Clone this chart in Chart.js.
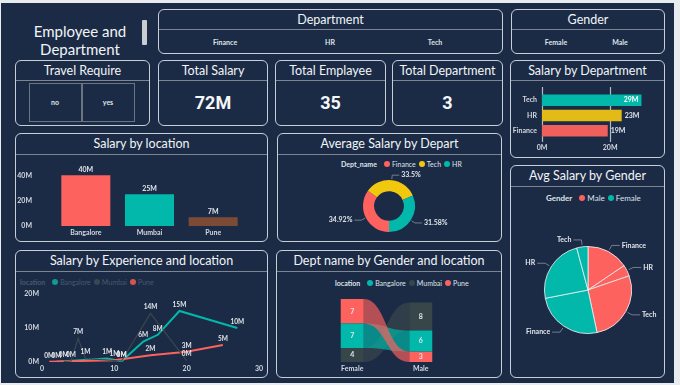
<!DOCTYPE html>
<html>
<head>
<meta charset="utf-8">
<script src="https://cdn.jsdelivr.net/npm/chart.js@4.4.1/dist/chart.umd.min.js"></script>
<style>
  body { margin: 0; width: 680px; height: 385px; position: relative; overflow: hidden; background: #e9ecef; font-family: Lato, "Open Sans", sans-serif; color: #f2f4f7; }
  #dash { position: absolute; left: 1px; top: 3px; width: 673px; height: 380px; background: #1b2b46; }
  .panel { position: absolute; box-sizing: border-box; border: 1.5px solid #c8ced6; border-radius: 6px; }
  .hd { position: absolute; left: 0; right: 0; top: 0; box-sizing: border-box; border-bottom: 1px solid #7d8593; text-align: center; font-size: 12.5px; white-space: nowrap; }
  .item { position: absolute; font-size: 7px; font-weight: 700; color: #dfe3e8; transform: translate(-50%, -50%); white-space: nowrap; }
  .kpi { position: absolute; left: 0; right: 0; text-align: center; font-family: Roboto, sans-serif; font-weight: 700; font-size: 17px; color: #f4f6f8; }
  .box { position: absolute; box-sizing: border-box; border: 1.5px solid #6b7481; }
  .legend { position: absolute; font-size: 7px; color: #dfe3e8; white-space: nowrap; display: flex; align-items: center; }
  .legend b { margin-right: 4px; }
  .dot { display: inline-block; width: 6px; height: 6px; border-radius: 50%; margin: 0 2px 0 3px; }
  canvas { position: absolute; }
</style>
</head>
<body>
<div id="dash"></div>

<!-- title -->
<div style="position:absolute;left:15px;top:22px;width:130px;text-align:center;font-size:15px;line-height:18px;">Employee and<br>Department</div>
<div style="position:absolute;left:142px;top:20px;width:5px;height:25px;background:#c9cdd2;border-radius:1px;"></div>

<!-- slicers -->
<div class="panel" style="left:158px;top:9px;width:345px;height:45px;">
  <div class="hd" style="height:20px;line-height:19px;">Department</div>
  <div class="item" style="left:66px;top:32px;">Finance</div>
  <div class="item" style="left:171px;top:32px;">HR</div>
  <div class="item" style="left:276px;top:32px;">Tech</div>
</div>
<div class="panel" style="left:511px;top:9px;width:154px;height:45px;">
  <div class="hd" style="height:20px;line-height:19px;">Gender</div>
  <div class="item" style="left:44px;top:32px;">Female</div>
  <div class="item" style="left:108px;top:32px;">Male</div>
</div>
<div class="panel" style="left:15px;top:60px;width:135px;height:66px;">
  <div class="hd" style="height:20px;line-height:19px;">Travel Require</div>
  <div class="box" style="left:13px;top:22px;width:53px;height:39px;"><div class="item" style="left:25px;top:18px;">no</div></div>
  <div class="box" style="left:66px;top:22px;width:53px;height:39px;"><div class="item" style="left:25px;top:18px;">yes</div></div>
</div>

<!-- cards -->
<div class="panel" style="left:158px;top:60px;width:110px;height:66px;">
  <div class="hd" style="height:20px;line-height:19px;">Total Salary</div>
  <div class="kpi" style="top:31px;font-size:18px;">72M</div>
</div>
<div class="panel" style="left:275px;top:60px;width:111px;height:66px;">
  <div class="hd" style="height:20px;line-height:19px;">Total Emplayee</div>
  <div class="kpi" style="top:31px;font-size:18px;">35</div>
</div>
<div class="panel" style="left:392px;top:60px;width:111px;height:66px;">
  <div class="hd" style="height:20px;line-height:19px;">Total Department</div>
  <div class="kpi" style="top:31px;font-size:18px;">3</div>
</div>

<!-- chart panels -->
<div class="panel" style="left:510px;top:60px;width:155px;height:98px;">
  <div class="hd" style="height:20px;line-height:19px;">Salary by Department</div>
</div>
<div class="panel" style="left:15px;top:133px;width:253px;height:109px;">
  <div class="hd" style="height:21px;line-height:20px;">Salary by location</div>
</div>
<div class="panel" style="left:277px;top:133px;width:225px;height:109px;">
  <div class="hd" style="height:21px;line-height:20px;">Average Salary by Depart</div>
</div>
<div class="panel" style="left:510px;top:165px;width:155px;height:213px;">
  <div class="hd" style="height:21px;line-height:20px;">Avg Salary by Gender</div>
</div>
<div class="panel" style="left:15px;top:250px;width:253px;height:128px;">
  <div class="hd" style="height:21px;line-height:20px;">Salary by Experience and location</div>
</div>
<div class="panel" style="left:276px;top:250px;width:226px;height:128px;">
  <div class="hd" style="height:21px;line-height:20px;">Dept name by Gender and location</div>
</div>

<!-- legends -->
<div class="legend" style="left:341px;top:160px;"><b>Dept_name</b><span class="dot" style="background:#fd625e"></span>Finance<span class="dot" style="background:#f2c80f"></span>Tech<span class="dot" style="background:#01b8aa"></span>HR</div>
<div class="legend" style="left:546px;top:193px;font-size:8px;"><b>Gender</b><span class="dot" style="background:#fd625e"></span>Male<span class="dot" style="background:#01b8aa"></span>Female</div>
<div class="legend" style="left:20px;top:278px;color:#4a586f;"><b>location</b><span class="dot" style="background:#0f9a92"></span>Bangalore<span class="dot" style="background:#3a4650"></span>Mumbai<span class="dot" style="background:#d4554f"></span>Pune</div>
<div class="legend" style="left:335px;top:279px;"><b>location</b><span class="dot" style="background:#01b8aa"></span>Bangalore<span class="dot" style="background:#374649"></span>Mumbai<span class="dot" style="background:#fd625e"></span>Pune</div>

<canvas id="locChart" width="252" height="86" style="left:15px;top:155px;"></canvas>
<canvas id="avgDeptChart" width="120" height="80" style="left:329px;top:166px;"></canvas>
<canvas id="deptChart" width="152" height="75" style="left:511px;top:82px;"></canvas>
<canvas id="genderChart" width="150" height="120" style="left:513px;top:230px;"></canvas>
<canvas id="expChart" width="252" height="92" style="left:15px;top:285px;"></canvas>
<canvas id="ribbonChart" width="225" height="86" style="left:277px;top:290px;"></canvas>

<script>
// --- Data ---
const locations = ["Bangalore", "Mumbai", "Pune"];
const salaryByLocation = [40, 25, 7]; // M

const avgDeptNames = ["Finance", "Tech", "HR"];
const avgSalaryByDept = [2.095, 2.01, 1.895]; // M

const salDeptNames = ["Tech", "HR", "Finance"];
const salaryByDept = [29.2, 23.4, 19.3]; // M

const genderDepts = ["Finance", "HR", "Tech"];
const maleAvgSalary = [1.12, 0.3, 1.94];
const femaleAvgSalary = [1.82, 1.72, 0.3];

const bangaloreExp = [2, 9, 11, 14, 16, 19, 27];
const bangaloreSalary = [0.1, 1, 0.2, 6, 8, 15, 10];
const mumbaiExp = [3, 4, 5, 6, 11, 15, 20];
const mumbaiSalary = [0.2, 0.3, 7, 1, 0.3, 14.3, 0.4];
const puneExp = [1, 10, 15, 20, 25];
const puneSalary = [0.1, 0.5, 2, 3, 5];

const ribbonGenders = ["Female", "Male"];
const femaleCount = [7, 4, 7]; // Bangalore, Mumbai, Pune
const maleCount = [6, 8, 3];

// --- Colours ---
const RED = "#fd625e", TEAL = "#01b8aa", YELLOW = "#f2c80f", GRAY = "#374649", BROWN = "#7d4b35";
const tickColor = "#d3d8de";
const labelColor = "#e2e5e9";
const smallFont = { family: "Lato", size: 7, weight: "bold" };

Chart.defaults.animation = false;
Chart.defaults.font.family = "Lato";
Chart.defaults.plugins.legend.display = false;
Chart.defaults.plugins.tooltip.enabled = false;

const noGrid = { display: false, drawTicks: false };

// --- Plugins ---
const barValueLabels = {
  id: "barValueLabels",
  afterDatasetsDraw(chart) {
    const ctx = chart.ctx;
    ctx.save();
    ctx.font = "bold 7px Lato";
    ctx.fillStyle = labelColor;
    ctx.textAlign = "center";
    ctx.textBaseline = "bottom";
    chart.getDatasetMeta(0).data.forEach((bar, i) => {
      ctx.fillText(Math.round(chart.data.datasets[0].data[i]) + "M", bar.x, bar.y - 2);
    });
    ctx.restore();
  },
};

function leaderLabels(format, gap, elbow, run) {
  return {
    id: "leaderLabels",
    afterDatasetsDraw(chart) {
      const ctx = chart.ctx;
      const ds = chart.data.datasets[0];
      const total = ds.data.reduce((a, b) => a + b, 0);
      ctx.save();
      ctx.font = "bold 7px Lato";
      ctx.strokeStyle = "#8a93a0";
      ctx.lineWidth = 0.8;
      ctx.fillStyle = labelColor;
      ctx.textBaseline = "middle";
      chart.getDatasetMeta(0).data.forEach((arc, i) => {
        const mid = (arc.startAngle + arc.endAngle) / 2;
        const r = arc.outerRadius;
        const c = Math.cos(mid), s = Math.sin(mid);
        const dir = c >= 0 ? 1 : -1;
        const x0 = arc.x + (r + gap) * c, y0 = arc.y + (r + gap) * s;
        const x1 = arc.x + (r + elbow) * c, y1 = arc.y + (r + elbow) * s;
        const x2 = x1 + dir * run;
        ctx.beginPath();
        ctx.moveTo(x0, y0);
        ctx.lineTo(x1, y1);
        ctx.lineTo(x2, y1);
        ctx.stroke();
        ctx.textAlign = dir > 0 ? "left" : "right";
        ctx.fillText(format(chart, i, ds.data[i], total), x2 + dir * 2, y1);
      });
      ctx.restore();
    },
  };
}

// --- Salary by location ---
new Chart(document.getElementById("locChart"), {
  type: "bar",
  data: {
    labels: locations,
    datasets: [{ data: salaryByLocation, backgroundColor: [RED, TEAL, BROWN], categoryPercentage: 1, barPercentage: 0.77 }],
  },
  options: {
    responsive: false,
    layout: { padding: { top: 14, right: 22 } },
    scales: {
      x: { grid: noGrid, border: { display: false }, ticks: { font: smallFont, color: tickColor, padding: 3 }, afterFit: (s) => { s.height = 15; } },
      y: {
        min: 0, max: 45, grid: noGrid, border: { display: false },
        ticks: { stepSize: 20, includeBounds: false, callback: (v) => v + "M", font: smallFont, color: tickColor, padding: 22 },
        afterFit: (s) => { s.width = 39; s.paddingTop = 4; s.paddingBottom = 4; },
      },
    },
  },
  plugins: [barValueLabels],
});

// --- Average Salary by Depart (donut) ---
new Chart(document.getElementById("avgDeptChart"), {
  type: "doughnut",
  data: { labels: avgDeptNames, datasets: [{ data: avgSalaryByDept, backgroundColor: [RED, YELLOW, TEAL], borderWidth: 0 }] },
  options: { responsive: false, cutout: "57%", rotation: 180, layout: { padding: { top: 14, bottom: 14 } } },
  plugins: [leaderLabels((c, i, v, t) => parseFloat((v / t * 100).toFixed(2)) + "%", 1, 5, 7)],
});

// --- Salary by Department (horizontal) ---
const xGridLines = {
  id: "xGridLines",
  beforeDatasetsDraw(chart) {
    const { ctx, chartArea, scales } = chart;
    ctx.save();
    ctx.strokeStyle = "#b3bac3";
    ctx.lineWidth = 1.2;
    scales.x.ticks.forEach((t) => {
      const px = Math.round(scales.x.getPixelForValue(t.value)) + 0.5;
      ctx.beginPath();
      ctx.moveTo(px, chartArea.top - 5.5);
      ctx.lineTo(px, chartArea.bottom + 3.5);
      ctx.stroke();
    });
    ctx.restore();
  },
  afterDatasetsDraw(chart) {
    const { ctx, chartArea } = chart;
    ctx.save();
    ctx.font = "bold 7px Lato";
    chart.getDatasetMeta(0).data.forEach((bar, i) => {
      const txt = Math.round(chart.data.datasets[0].data[i]) + "M";
      ctx.textBaseline = "middle";
      if (bar.x + 18 > chartArea.right) {
        ctx.textAlign = "right";
        ctx.fillStyle = "#ffffff";
        ctx.fillText(txt, bar.x - 3, bar.y);
      } else {
        ctx.textAlign = "left";
        ctx.fillStyle = labelColor;
        ctx.fillText(txt, bar.x + 3, bar.y);
      }
    });
    ctx.restore();
  },
};
new Chart(document.getElementById("deptChart"), {
  type: "bar",
  data: {
    labels: salDeptNames,
    datasets: [{ data: salaryByDept, backgroundColor: [TEAL, "#e3bb17", "#ef5f5c"], categoryPercentage: 1, barPercentage: 0.75 }],
  },
  options: {
    responsive: false,
    indexAxis: "y",
    layout: { padding: { top: 10.5, right: 12 } },
    scales: {
      x: {
        min: 0, max: 32, grid: noGrid, border: { display: false },
        ticks: { stepSize: 20, includeBounds: false, callback: (v) => v + "M", font: smallFont, color: tickColor, padding: 5 },
        afterFit: (s) => { s.height = 18.5; },
      },
      y: { grid: noGrid, border: { display: false }, ticks: { font: smallFont, color: tickColor, padding: 5 }, afterFit: (s) => { s.width = 31; } },
    },
  },
  plugins: [xGridLines],
});

// --- Avg Salary by Gender (pie) ---
const pieLabels = genderDepts.concat(genderDepts);
new Chart(document.getElementById("genderChart"), {
  type: "pie",
  data: {
    labels: pieLabels,
    datasets: [{
      data: maleAvgSalary.concat(femaleAvgSalary),
      backgroundColor: [RED, RED, RED, TEAL, TEAL, TEAL],
      borderColor: "rgba(235,238,242,0.85)",
      borderWidth: 1,
    }],
  },
  options: { responsive: false, layout: { padding: { top: 16, bottom: 16 } } },
  plugins: [leaderLabels((c, i) => c.data.labels[i], 2, 7, 8)],
});

// --- Salary by Experience and location ---
const toPoints = (xs, ys) => xs.map((x, i) => ({ x, y: ys[i] }));
const lineLabels = {
  id: "lineLabels",
  afterDatasetsDraw(chart) {
    const ctx = chart.ctx;
    ctx.save();
    ctx.font = "bold 6.5px Lato";
    ctx.fillStyle = labelColor;
    ctx.textAlign = "center";
    ctx.textBaseline = "bottom";
    chart.data.datasets.forEach((ds, d) => {
      chart.getDatasetMeta(d).data.forEach((pt, i) => {
        ctx.fillText(Math.round(ds.data[i].y) + "M", pt.x, pt.y - 3);
      });
    });
    ctx.restore();
  },
};
new Chart(document.getElementById("expChart"), {
  type: "line",
  data: {
    datasets: [
      { label: "Mumbai", data: toPoints(mumbaiExp, mumbaiSalary), borderColor: "#3b474c", borderWidth: 1.2 },
      { label: "Pune", data: toPoints(puneExp, puneSalary), borderColor: RED, borderWidth: 2 },
      { label: "Bangalore", data: toPoints(bangaloreExp, bangaloreSalary), borderColor: TEAL, borderWidth: 2 },
    ],
  },
  options: {
    responsive: false,
    elements: { point: { radius: 0 }, line: { tension: 0 } },
    layout: { padding: { top: 9, right: 8 } },
    scales: {
      x: {
        type: "linear", min: 0, max: 30, grid: noGrid, border: { display: false },
        ticks: { stepSize: 10, font: smallFont, color: tickColor, padding: 3 },
        afterFit: (s) => { s.height = 15; },
      },
      y: {
        min: 0, max: 20, grid: noGrid, border: { display: false },
        ticks: { stepSize: 10, callback: (v) => v + "M", font: smallFont, color: tickColor, padding: 3 },
        afterFit: (s) => { s.width = 27; },
      },
    },
  },
  plugins: [lineLabels],
});

// --- Dept name by Gender and location (ribbon) ---
function stackRanges(counts) {
  const order = counts.map((v, i) => i).sort((a, b) => counts[a] - counts[b]);
  const ranges = [];
  let base = 0;
  order.forEach((i) => { ranges[i] = [base, base + counts[i]]; base += counts[i]; });
  return ranges;
}
const femaleRanges = stackRanges(femaleCount);
const maleRanges = stackRanges(maleCount);
const ribbonColors = [TEAL, GRAY, RED];
const ribbonFills = ["rgba(1,184,170,0.68)", "rgba(55,70,73,0.75)", "rgba(253,98,94,0.68)"];

const ribbons = {
  id: "ribbons",
  beforeDatasetsDraw(chart) {
    const { ctx, scales } = chart;
    ctx.save();
    [1, 0, 2].forEach((d) => {
      const ds = chart.data.datasets[d];
      const [f, m] = chart.getDatasetMeta(d).data;
      const x0 = f.x + f.width / 2, x1 = m.x - m.width / 2, xm = (x0 + x1) / 2;
      const fTop = scales.y.getPixelForValue(ds.data[0][1]), fBot = scales.y.getPixelForValue(ds.data[0][0]);
      const mTop = scales.y.getPixelForValue(ds.data[1][1]), mBot = scales.y.getPixelForValue(ds.data[1][0]);
      ctx.beginPath();
      ctx.moveTo(x0, fTop);
      ctx.bezierCurveTo(xm, fTop, xm, mTop, x1, mTop);
      ctx.lineTo(x1, mBot);
      ctx.bezierCurveTo(xm, mBot, xm, fBot, x0, fBot);
      ctx.closePath();
      ctx.fillStyle = ribbonFills[d];
      ctx.fill();
    });
    ctx.restore();
  },
  afterDatasetsDraw(chart) {
    const ctx = chart.ctx;
    ctx.save();
    ctx.font = "bold 7px Lato";
    ctx.fillStyle = labelColor;
    ctx.textAlign = "center";
    ctx.textBaseline = "middle";
    chart.data.datasets.forEach((ds, d) => {
      chart.getDatasetMeta(d).data.forEach((bar, i) => {
        ctx.fillText(ds.data[i][1] - ds.data[i][0], bar.x, (bar.y + bar.base) / 2);
      });
    });
    ctx.restore();
  },
};
new Chart(document.getElementById("ribbonChart"), {
  type: "bar",
  data: {
    labels: ribbonGenders,
    datasets: locations.map((loc, i) => ({
      label: loc,
      data: [femaleRanges[i], maleRanges[i]],
      backgroundColor: ribbonColors[i],
      grouped: false,
      categoryPercentage: 1,
      barPercentage: 0.336,
    })),
  },
  options: {
    responsive: false,
    layout: { padding: { top: 9, left: 41, right: 47 } },
    scales: {
      x: { grid: noGrid, border: { display: false }, ticks: { font: smallFont, color: tickColor, padding: 3 }, afterFit: (s) => { s.height = 14; } },
      y: { display: false, min: 0, max: 18 },
    },
  },
  plugins: [ribbons],
});
</script>
</body>
</html>
